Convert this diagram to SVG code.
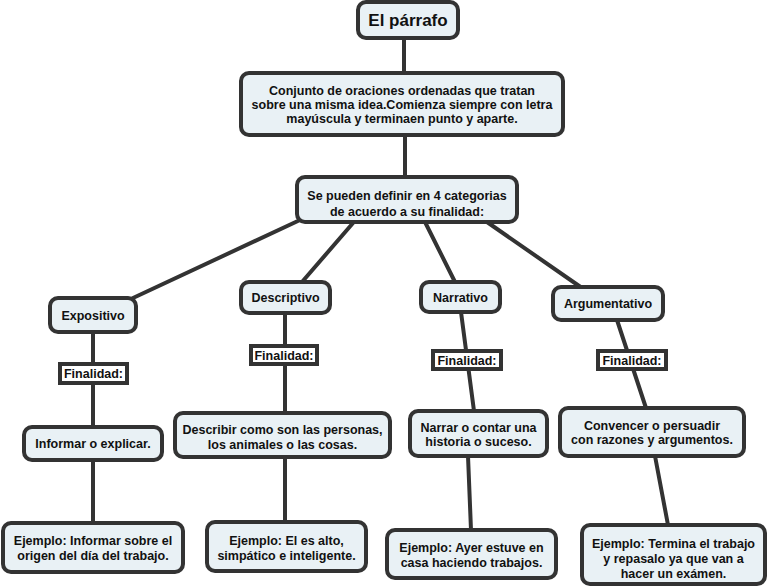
<svg xmlns="http://www.w3.org/2000/svg" width="768" height="587" viewBox="0 0 768 587">
<style>
.box{fill:#e9f1f5;stroke:#333;stroke-width:4;}
.lbl{fill:#fff;stroke:#333;stroke-width:4;}
.t{font-family:"Liberation Sans",Arial,sans-serif;font-weight:bold;font-size:12.5px;fill:#111;text-anchor:middle;}
.title{font-size:17px;}
.c line{stroke:#333;stroke-width:4;stroke-linecap:round;}
</style>
<rect width="768" height="587" fill="#fff"/>
<g id="connectors" class="c">
<line x1="404" y1="38" x2="404" y2="73"/>
<line x1="405" y1="135" x2="405" y2="177"/>
<line x1="300" y1="220" x2="133" y2="298"/>
<line x1="353" y1="223" x2="302" y2="282"/>
<line x1="425" y1="222" x2="455" y2="282"/>
<line x1="487" y1="222" x2="582" y2="288"/>
<line x1="93" y1="332" x2="93" y2="427"/>
<line x1="93" y1="460" x2="93" y2="523"/>
<line x1="285" y1="313" x2="285" y2="413"/>
<line x1="285" y1="457" x2="285" y2="522"/>
<line x1="461" y1="312" x2="474" y2="411"/>
<line x1="468" y1="456" x2="471" y2="530"/>
<line x1="617" y1="320" x2="646" y2="408"/>
<line x1="655" y1="456" x2="668" y2="525"/>
</g>
<g id="n-title"><rect class="box" x="358" y="2" width="100" height="36" rx="8"/><text class="t title" x="408" y="26">El párrafo</text></g>
<g id="n-def"><rect class="box" x="241" y="73" width="322" height="62" rx="8"/>
<text class="t" x="402" y="94.5">Conjunto de oraciones ordenadas que tratan</text>
<text class="t" x="402" y="108.5">sobre una misma idea.Comienza siempre con letra</text>
<text class="t" x="402" y="122.5">mayúscula y terminaen punto y aparte.</text></g>
<g id="n-cat"><rect class="box" x="297" y="177" width="220" height="45" rx="8"/>
<text class="t" x="407" y="199.5">Se pueden definir en 4 categorias</text>
<text class="t" x="407" y="215.5">de acuerdo a su finalidad:</text></g>
<g id="n-expositivo"><rect class="box" x="50" y="298" width="86" height="34" rx="8"/><text class="t" x="93" y="319.5">Expositivo</text></g>
<g id="n-descriptivo"><rect class="box" x="241" y="282" width="89" height="31" rx="8"/><text class="t" x="285.5" y="302">Descriptivo</text></g>
<g id="n-narrativo"><rect class="box" x="421" y="282" width="79" height="30" rx="8"/><text class="t" x="460.5" y="301.5">Narrativo</text></g>
<g id="n-argumentativo"><rect class="box" x="553" y="287" width="110" height="33" rx="8"/><text class="t" x="608" y="308">Argumentativo</text></g>
<g id="l-fin1"><rect class="lbl" x="60" y="364" width="67" height="19"/><text class="t" x="93.5" y="378">Finalidad:</text></g>
<g id="l-fin2"><rect class="lbl" x="251" y="346" width="66" height="18"/><text class="t" x="284" y="359.5">Finalidad:</text></g>
<g id="l-fin3"><rect class="lbl" x="433" y="351" width="68" height="18"/><text class="t" x="467" y="364.5">Finalidad:</text></g>
<g id="l-fin4"><rect class="lbl" x="598" y="351" width="68" height="18"/><text class="t" x="632" y="364.5">Finalidad:</text></g>
<g id="n-informar"><rect class="box" x="24" y="427" width="138" height="33" rx="8"/><text class="t" x="93" y="448">Informar o explicar.</text></g>
<g id="n-describir"><rect class="box" x="175" y="413" width="215" height="44" rx="8"/>
<text class="t" x="282.5" y="433.5">Describir como son las personas,</text>
<text class="t" x="282.5" y="448.5">los animales o las cosas.</text></g>
<g id="n-narrar"><rect class="box" x="410" y="411" width="137" height="45" rx="8"/>
<text class="t" x="478.5" y="431.5">Narrar o contar una</text>
<text class="t" x="478.5" y="445.5">historia o suceso.</text></g>
<g id="n-convencer"><rect class="box" x="560" y="408" width="184" height="48" rx="8"/>
<text class="t" x="652" y="429.5">Convencer o persuadir</text>
<text class="t" x="652" y="443.5">con razones y argumentos.</text></g>
<g id="n-ej1"><rect class="box" x="3" y="523" width="180" height="49" rx="8"/>
<text class="t" x="93" y="544.5">Ejemplo: Informar sobre el</text>
<text class="t" x="93" y="559.5">origen del día del trabajo.</text></g>
<g id="n-ej2"><rect class="box" x="207" y="522" width="159" height="49" rx="8"/>
<text class="t" x="286.5" y="544.5">Ejemplo: El es alto,</text>
<text class="t" x="286.5" y="559.5">simpático e inteligente.</text></g>
<g id="n-ej3"><rect class="box" x="387" y="530" width="169" height="48" rx="8"/>
<text class="t" x="471.5" y="551.5">Ejemplo: Ayer estuve en</text>
<text class="t" x="471.5" y="566.5">casa haciendo trabajos.</text></g>
<g id="n-ej4"><rect class="box" x="582" y="525" width="183" height="59" rx="8"/>
<text class="t" x="673.5" y="547.5">Ejemplo: Termina el trabajo</text>
<text class="t" x="673.5" y="562.5">y repasalo ya que van a</text>
<text class="t" x="673.5" y="577.5">hacer un exámen.</text></g>
</svg>
